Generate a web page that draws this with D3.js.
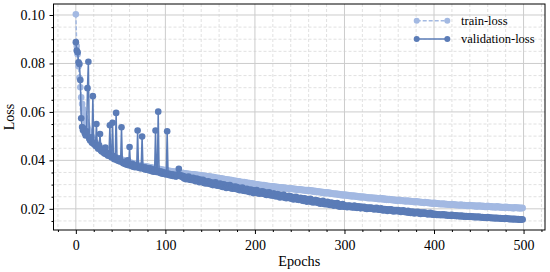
<!DOCTYPE html>
<html>
<head>
<meta charset="utf-8">
<script src="https://cdn.jsdelivr.net/npm/d3@7"></script>
<style>
  body { margin: 0; background: #fff; }
  svg { display: block; font-family: 'Liberation Serif', 'DejaVu Serif', serif; }
  .grid-major line { stroke: #cccccc; stroke-width: 1; }
  .grid-minor line { stroke: #d9d9d9; stroke-width: 0.8; stroke-dasharray: 3,2; }
  .axis line { stroke: #000; }
</style>
</head>
<body>
<div id="chart"></div>
<script>
// Loss per epoch

const trainLoss = [
  .1003,.0872,.0838,.0788,.0741,.0702,.0660,.0633,.0612,.0594,
  .0578,.0563,.0550,.0538,.0527,.0518,.0510,.0503,.0496,.0489,
  .0484,.0477,.0474,.0467,.0465,.0459,.0457,.0451,.0450,.0445,
  .0444,.0439,.0438,.0434,.0433,.0429,.0429,.0425,.0425,.0421,
  .0421,.0417,.0417,.0414,.0414,.0410,.0411,.0407,.0408,.0404,
  .0405,.0401,.0402,.0399,.0399,.0396,.0397,.0394,.0394,.0391,
  .0392,.0389,.0390,.0387,.0388,.0385,.0386,.0383,.0384,.0381,
  .0382,.0379,.0380,.0378,.0378,.0376,.0377,.0374,.0375,.0373,
  .0374,.0371,.0372,.0370,.0371,.0368,.0369,.0367,.0368,.0365,
  .0366,.0364,.0365,.0362,.0364,.0361,.0362,.0360,.0361,.0358,
  .0360,.0357,.0359,.0356,.0357,.0355,.0356,.0353,.0355,.0352,
  .0354,.0351,.0353,.0350,.0351,.0349,.0350,.0347,.0349,.0346,
  .0348,.0346,.0347,.0344,.0346,.0343,.0345,.0342,.0344,.0341,
  .0343,.0341,.0342,.0339,.0341,.0338,.0340,.0337,.0339,.0336,
  .0338,.0336,.0337,.0334,.0336,.0333,.0335,.0332,.0334,.0331,
  .0333,.0331,.0332,.0329,.0331,.0328,.0329,.0326,.0328,.0325,
  .0327,.0324,.0326,.0323,.0325,.0322,.0323,.0320,.0322,.0319,
  .0321,.0318,.0320,.0317,.0319,.0316,.0317,.0314,.0316,.0313,
  .0315,.0312,.0314,.0311,.0312,.0309,.0311,.0308,.0310,.0307,
  .0308,.0306,.0307,.0304,.0306,.0303,.0305,.0302,.0304,.0301,
  .0302,.0300,.0301,.0299,.0300,.0297,.0299,.0296,.0298,.0295,
  .0298,.0295,.0296,.0294,.0295,.0292,.0294,.0291,.0293,.0290,
  .0293,.0290,.0292,.0289,.0291,.0288,.0290,.0287,.0289,.0286,
  .0289,.0286,.0288,.0285,.0287,.0284,.0286,.0283,.0285,.0282,
  .0285,.0282,.0284,.0281,.0283,.0280,.0282,.0279,.0281,.0278,
  .0281,.0278,.0280,.0277,.0279,.0276,.0278,.0275,.0277,.0274,
  .0277,.0274,.0276,.0273,.0275,.0271,.0274,.0270,.0273,.0269,
  .0272,.0269,.0271,.0268,.0270,.0266,.0269,.0265,.0268,.0264,
  .0268,.0265,.0267,.0263,.0266,.0262,.0264,.0261,.0263,.0260,
  .0263,.0260,.0262,.0258,.0261,.0257,.0260,.0256,.0259,.0255,
  .0259,.0256,.0258,.0254,.0257,.0253,.0256,.0252,.0255,.0251,
  .0255,.0252,.0254,.0250,.0253,.0249,.0252,.0248,.0251,.0247,
  .0251,.0248,.0250,.0247,.0249,.0245,.0248,.0244,.0247,.0244,
  .0247,.0244,.0246,.0243,.0245,.0242,.0244,.0241,.0243,.0240,
  .0244,.0241,.0243,.0239,.0242,.0238,.0241,.0237,.0240,.0237,
  .0240,.0237,.0239,.0236,.0238,.0235,.0237,.0234,.0236,.0233,
  .0237,.0234,.0236,.0233,.0235,.0232,.0234,.0231,.0233,.0230,
  .0234,.0231,.0233,.0230,.0232,.0229,.0231,.0228,.0230,.0227,
  .0231,.0228,.0230,.0227,.0229,.0226,.0228,.0225,.0227,.0224,
  .0228,.0225,.0227,.0224,.0226,.0223,.0225,.0222,.0224,.0221,
  .0225,.0222,.0224,.0221,.0223,.0220,.0222,.0219,.0221,.0219,
  .0222,.0219,.0221,.0218,.0220,.0218,.0219,.0217,.0219,.0216,
  .0220,.0217,.0219,.0216,.0218,.0215,.0217,.0215,.0216,.0214,
  .0218,.0215,.0216,.0214,.0216,.0213,.0215,.0212,.0214,.0212,
  .0216,.0213,.0214,.0212,.0214,.0211,.0213,.0210,.0212,.0210,
  .0213,.0211,.0212,.0210,.0212,.0209,.0211,.0208,.0210,.0208,
  .0212,.0209,.0210,.0208,.0210,.0207,.0209,.0207,.0208,.0206,
  .0210,.0207,.0209,.0206,.0208,.0205,.0207,.0205,.0207,.0204,
  .0208,.0205,.0207,.0204,.0206,.0204,.0205,.0203,.0205,.0202,
  .0206,.0204,.0205,.0203,.0205,.0202,.0204,.0202,.0204,.0203
]

const validationLoss = [
  .0888,.0853,.0846,.0805,.0798,.0732,.0574,.0538,.0524,.0531,
  .0512,.0503,.0520,.0698,.0807,.0489,.0482,.0495,.0473,.0665,
  .0468,.0472,.0459,.0550,.0455,.0448,.0462,.0509,.0441,.0437,
  .0445,.0432,.0428,.0453,.0425,.0430,.0419,.0422,.0545,.0416,
  .0412,.0555,.0418,.0405,.0411,.0596,.0401,.0406,.0397,.0408,
  .0395,.0537,.0392,.0388,.0394,.0385,.0390,.0382,.0400,.0380,
  .0455,.0383,.0377,.0386,.0374,.0379,.0372,.0380,.0375,.0523,
  .0370,.0374,.0367,.0375,.0498,.0368,.0364,.0371,.0362,.0368,
  .0361,.0366,.0358,.0367,.0360,.0355,.0363,.0353,.0359,.0523,
  .0352,.0357,.0601,.0350,.0355,.0347,.0353,.0345,.0351,.0344,
  .0348,.0342,.0520,.0346,.0340,.0344,.0338,.0343,.0336,.0341,
  .0335,.0339,.0333,.0337,.0342,.0365,.0340,.0334,.0337,.0331,
  .0335,.0325,.0331,.0322,.0331,.0325,.0333,.0320,.0325,.0319,
  .0320,.0328,.0317,.0323,.0314,.0325,.0318,.0322,.0310,.0320,
  .0319,.0312,.0320,.0307,.0313,.0305,.0313,.0306,.0314,.0303,
  .0311,.0301,.0307,.0298,.0307,.0301,.0309,.0296,.0301,.0295,
  .0296,.0304,.0293,.0299,.0290,.0301,.0294,.0298,.0286,.0296,
  .0296,.0289,.0298,.0285,.0290,.0283,.0291,.0284,.0292,.0282,
  .0290,.0280,.0286,.0277,.0286,.0280,.0288,.0275,.0280,.0274,
  .0275,.0283,.0272,.0278,.0269,.0280,.0273,.0277,.0265,.0275,
  .0275,.0268,.0277,.0264,.0270,.0262,.0270,.0264,.0272,.0262,
  .0270,.0260,.0266,.0257,.0267,.0260,.0268,.0256,.0261,.0255,
  .0256,.0264,.0253,.0259,.0251,.0261,.0254,.0259,.0247,.0257,
  .0257,.0250,.0259,.0246,.0252,.0244,.0252,.0246,.0254,.0244,
  .0252,.0242,.0248,.0239,.0249,.0242,.0250,.0238,.0243,.0237,
  .0238,.0246,.0235,.0241,.0233,.0243,.0236,.0241,.0229,.0239,
  .0239,.0232,.0241,.0228,.0234,.0226,.0234,.0228,.0236,.0226,
  .0234,.0224,.0230,.0221,.0231,.0224,.0233,.0220,.0226,.0219,
  .0221,.0229,.0218,.0224,.0216,.0226,.0220,.0224,.0213,.0222,
  .0222,.0215,.0224,.0211,.0217,.0209,.0218,.0211,.0220,.0209,
  .0215,.0210,.0212,.0207,.0213,.0209,.0214,.0207,.0210,.0206,
  .0207,.0213,.0205,.0209,.0204,.0210,.0206,.0209,.0202,.0208,
  .0207,.0204,.0208,.0201,.0205,.0199,.0205,.0201,.0205,.0200,
  .0205,.0200,.0202,.0197,.0203,.0199,.0204,.0197,.0200,.0196,
  .0196,.0202,.0194,.0198,.0193,.0199,.0195,.0198,.0191,.0197,
  .0197,.0194,.0198,.0191,.0195,.0189,.0195,.0191,.0195,.0190,
  .0195,.0190,.0192,.0187,.0193,.0189,.0194,.0187,.0190,.0186,
  .0186,.0192,.0184,.0188,.0183,.0189,.0185,.0188,.0181,.0187,
  .0187,.0184,.0188,.0181,.0185,.0179,.0185,.0181,.0185,.0180,
  .0185,.0180,.0182,.0177,.0183,.0179,.0184,.0177,.0180,.0176,
  .0179,.0177,.0178,.0175,.0177,.0175,.0176,.0174,.0176,.0174,
  .0177,.0174,.0176,.0173,.0175,.0172,.0174,.0172,.0174,.0171,
  .0175,.0172,.0173,.0171,.0173,.0170,.0172,.0170,.0171,.0169,
  .0172,.0169,.0171,.0168,.0170,.0168,.0170,.0167,.0169,.0167,
  .0170,.0167,.0169,.0166,.0168,.0165,.0168,.0165,.0167,.0165,
  .0168,.0165,.0166,.0164,.0166,.0163,.0165,.0163,.0165,.0162,
  .0166,.0163,.0164,.0162,.0164,.0161,.0163,.0161,.0163,.0160,
  .0163,.0161,.0162,.0160,.0162,.0159,.0161,.0159,.0160,.0158,
  .0162,.0159,.0160,.0158,.0160,.0157,.0159,.0157,.0159,.0156,
  .0159,.0157,.0158,.0156,.0158,.0155,.0157,.0155,.0157,.0156
]

const epochs = trainLoss.map((d, i) => i)

const xTicks = [0, 100, 200, 300, 400, 500]
const xMinorTicks = [-20, 20, 40, 60, 80, 120, 140, 160, 180, 220, 240, 260, 280,
  320, 340, 360, 380, 420, 440, 460, 480, 520]
const yTicks = [0.02, 0.04, 0.06, 0.08, 0.10]
const yMinorTicks = [0.015, 0.025, 0.03, 0.035, 0.045, 0.05, 0.055, 0.065, 0.07,
  0.075, 0.085, 0.09, 0.095]

const seriesNames = ['train-loss', 'validation-loss']
const colors = ['#a3b9e2', '#5b7cb7']
const serif = "'Liberation Serif', 'DejaVu Serif', serif"

// Chart size
let divWidth = 550,
    divHeight = 272
let margin = { top: 4, right: 5, bottom: 42, left: 53.5 },
    width = divWidth - margin.left - margin.right,
    height = divHeight - margin.top - margin.bottom

// Scales, padded 5% like matplotlib
let n = epochs.length - 1
let xScale = d3.scaleLinear()
    .domain([-n * 0.05, n * 1.05])
    .range([0, width])

let allVals = trainLoss.concat(validationLoss)
let yMin = d3.min(allVals), yMax = d3.max(allVals), yPad = (yMax - yMin) * 0.05
let yScale = d3.scaleLinear()
    .domain([yMin - yPad, yMax + yPad])
    .range([height, 0])

let svg = d3.select('#chart').append('svg')
    .attr('width', divWidth)
    .attr('height', divHeight)
    .append('g')
    .attr('transform', 'translate(' + margin.left + ',' + margin.top + ')')

// Grid
svg.append('g')
  .attr('class', 'grid-minor')
  .call(g => {
    g.selectAll('.vx').data(xMinorTicks).enter().append('line')
      .attr('x1', d => xScale(d)).attr('x2', d => xScale(d))
      .attr('y1', 0).attr('y2', height)
    g.selectAll('.hy').data(yMinorTicks).enter().append('line')
      .attr('x1', 0).attr('x2', width)
      .attr('y1', d => yScale(d)).attr('y2', d => yScale(d))
  })

svg.append('g')
  .attr('class', 'grid-major')
  .call(g => {
    g.selectAll('.vx').data(xTicks).enter().append('line')
      .attr('x1', d => xScale(d)).attr('x2', d => xScale(d))
      .attr('y1', 0).attr('y2', height)
    g.selectAll('.hy').data(yTicks).enter().append('line')
      .attr('x1', 0).attr('x2', width)
      .attr('y1', d => yScale(d)).attr('y2', d => yScale(d))
  })

// Series: train first, validation on top
let series = [trainLoss, validationLoss]
let line = d3.line()
    .x((d, i) => xScale(epochs[i]))
    .y(d => yScale(d))

series.forEach((vals, k) => {
  let group = svg.append('g').attr('class', 'series-' + k)
  group.append('path')
    .datum(vals)
    .attr('d', line)
    .attr('fill', 'none')
    .attr('stroke', colors[k])
    .attr('stroke-width', 1.5)
    .attr('stroke-dasharray', k === 0 ? '4,2' : null)
  group.selectAll('circle')
    .data(vals)
    .enter().append('circle')
    .attr('cx', (d, i) => xScale(epochs[i]))
    .attr('cy', d => yScale(d))
    .attr('r', 3.3)
    .attr('fill', colors[k])
})

// Axes
let xAxis = d3.axisBottom(xScale).tickValues(xTicks).tickSize(4).tickPadding(6)
    .tickFormat(d3.format('d'))
let xMinor = d3.axisBottom(xScale).tickValues(xMinorTicks).tickSize(2).tickFormat('')
let yAxis = d3.axisLeft(yScale).tickValues(yTicks).tickSize(4).tickPadding(4.5)
    .tickFormat(d3.format('.2f'))
let yMinor = d3.axisLeft(yScale).tickValues(yMinorTicks).tickSize(2).tickFormat('')

svg.append('g').attr('class', 'axis axis-x')
  .attr('transform', 'translate(0,' + height + ')').call(xAxis)
svg.append('g').attr('class', 'axis axis-x-minor')
  .attr('transform', 'translate(0,' + height + ')').call(xMinor)
svg.append('g').attr('class', 'axis axis-y').call(yAxis)
svg.append('g').attr('class', 'axis axis-y-minor').call(yMinor)
svg.selectAll('.axis .domain').remove()
// d3 puts 10px sans-serif on the axis groups, override on the labels
svg.selectAll('.axis text')
  .style('font-family', serif)
  .style('font-size', '14px')
  .style('fill', '#000')

// Frame
svg.append('rect')
  .attr('width', width)
  .attr('height', height)
  .attr('fill', 'none')
  .attr('stroke', '#000')
  .attr('stroke-width', 1)

// Axis titles
svg.append('text')
  .attr('x', width / 2)
  .attr('y', height + 35.5)
  .attr('text-anchor', 'middle')
  .style('font-size', '14.3px')
  .text('Epochs')

svg.append('text')
  .attr('transform', 'translate(' + (13.5 - margin.left) + ',' + (height / 2) + ') rotate(-90)')
  .attr('text-anchor', 'middle')
  .style('font-size', '14px')
  .text('Loss')

// Legend
let legend = svg.append('g')
    .attr('class', 'legend')
    .attr('transform', 'translate(' + (416.7 - margin.left) + ',' + (20.7 - margin.top) + ')')

seriesNames.forEach((name, k) => {
  let row = legend.append('g').attr('transform', 'translate(0,' + (k * 18.3) + ')')
  row.append('line')
    .attr('x1', 0).attr('x2', 30.6)
    .attr('stroke', colors[k])
    .attr('stroke-width', 1.5)
    .attr('stroke-dasharray', k === 0 ? '4,2' : null)
  row.selectAll('circle').data([0, 30.6]).enter().append('circle')
    .attr('cx', d => d).attr('r', 3).attr('fill', colors[k])
  row.append('text')
    .attr('x', 44.3)
    .attr('dy', '0.33em')
    .style('font-size', '12.5px')
    .text(name)
})
</script>
</body>
</html>
